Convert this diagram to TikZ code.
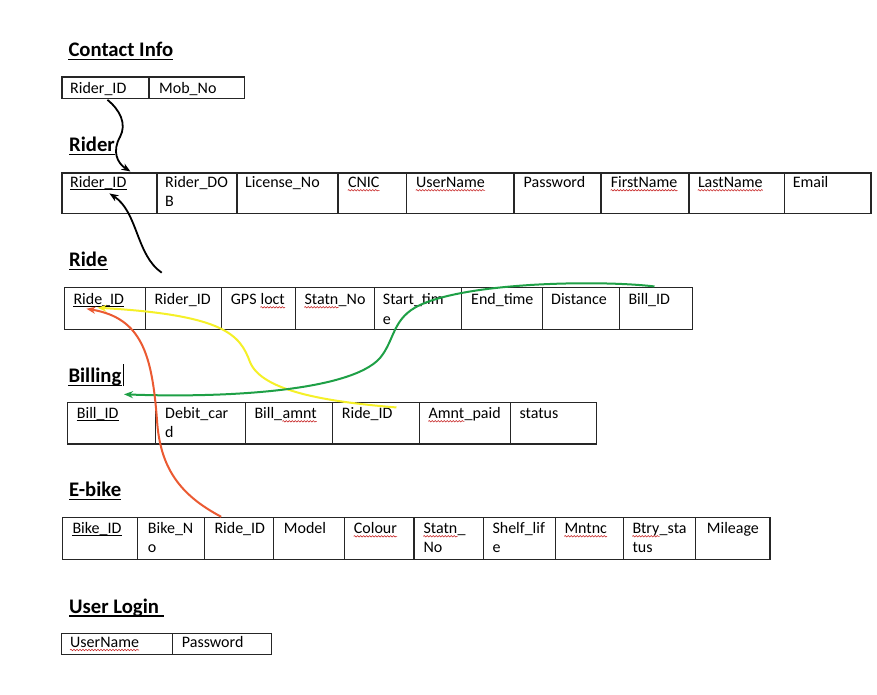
\documentclass[tikz,border=0pt]{standalone}
\usepackage{fontspec}
\setmainfont{Carlito}
\usetikzlibrary{fit,arrows.meta,decorations.pathmorphing}
\definecolor{ylw}{RGB}{245,240,40}
\definecolor{grn}{RGB}{30,160,70}
\definecolor{rdo}{RGB}{235,90,50}
\definecolor{sqred}{RGB}{200,40,40}
\newcommand\tcell[5]{\node[cellbox, fit={(#2,#4) (#3,#5)}] (#1) {};}
\newcommand\ulnode[1]{\draw[ul] ([yshift=-2pt]#1.base west) -- ([yshift=-2pt]#1.base east);}
\newcommand\sqnode[1]{\draw[squig] ([yshift=-3pt]#1.base west) -- ([yshift=-3pt]#1.base east);}
\newcommand\tulnode[1]{\draw[tul] ([yshift=-2.6pt]#1.base west) -- ([yshift=-2.6pt]#1.base east);}
\begin{document}
\begin{tikzpicture}[x=1pt,y=-1pt,
  cellbox/.style={draw=black!85, line width=1.1pt, inner sep=0pt},
  txt/.style={inner sep=0pt, anchor=base west, font=\fontsize{16}{19}\selectfont},
  ttl/.style={inner sep=0pt, anchor=base west, font=\fontsize{20.7}{24}\selectfont\bfseries},
  ul/.style={line width=1pt, black},
  tul/.style={line width=1.5pt, black},
  squig/.style={draw=sqred, line width=0.6pt, decorate, decoration={snake, amplitude=0.7pt, segment length=3pt}},
  blk/.style={line width=1.8pt, black, -{Stealth[length=9pt,width=7pt]}},
  colarrow/.style={line width=2pt, -{Stealth[length=9pt,width=7pt]}},
]
\useasboundingbox[fill=white] (0,0) rectangle (877,695);

% ---------- titles ----------
\node[ttl] (tci) at (68.3,56.7) {Contact Info}; \tulnode{tci}
\node[ttl] (tri) at (69,151.7) {Rider}; \tulnode{tri}
\node[ttl] (trd) at (69,266.7) {Ride}; \tulnode{trd}
\node[ttl] (tbl) at (68.3,382.7) {Billing}; \tulnode{tbl}
\node[ttl] (teb) at (69,496.7) {E-bike}; \tulnode{teb}
\node[ttl] (tul) at (69,613.3) {User Login}; 
\draw[tul] ([yshift=-2.6pt]tul.base west) -- ([xshift=5pt,yshift=-2.6pt]tul.base east);
\draw[line width=0.8pt] ([xshift=1.5pt,yshift=-3.5pt]tbl.base east) -- ++(0,-22);

% ---------- Contact Info ----------
\tcell{ci1}{62}{149}{77}{98.3}
\tcell{ci2}{149}{244.3}{77}{98.3}
\node[txt] (ci1t) at (70,93.3) {Rider\_ID};
\node[txt] (ci2t) at (159,93.3) {Mob\_No};

% ---------- Rider ----------
\tcell{r1}{62}{157}{173}{213.5}
\tcell{r2}{157}{237}{173}{213.5}
\tcell{r3}{237}{338}{173}{213.5}
\tcell{r4}{338}{406.5}{173}{213.5}
\tcell{r5}{406.5}{514}{173}{213.5}
\tcell{r6}{514}{601}{173}{213.5}
\tcell{r7}{601}{689}{173}{213.5}
\tcell{r8}{689}{784.5}{173}{213.5}
\tcell{r9}{784.5}{871}{173}{213.5}
\node[txt] (r1t) at (70,187.3) {Rider\_ID}; \ulnode{r1t}
\node[txt] (r2t) at (165,187.3) {Rider\_DO};
\node[txt] (r2u) at (165,206.7) {B};
\node[txt] (r3t) at (245,187.3) {License\_No};
\node[txt] (r4t) at (347.8,187.3) {CNIC}; \sqnode{r4t}
\node[txt] (r5t) at (415.8,187.3) {UserName}; \sqnode{r5t}
\node[txt] (r6t) at (523.5,187.3) {Password};
\node[txt] (r7t) at (610.6,187.3) {FirstName}; \sqnode{r7t}
\node[txt] (r8t) at (697.8,187.3) {LastName}; \sqnode{r8t}
\node[txt] (r9t) at (792.6,187.3) {Email};

% ---------- Ride ----------
\tcell{rd1}{64.3}{145.3}{287.5}{329.2}
\tcell{rd2}{145.3}{221.3}{287.5}{329.2}
\tcell{rd3}{221.3}{295.7}{287.5}{329.2}
\tcell{rd4}{295.7}{374.7}{287.5}{329.2}
\tcell{rd5}{374.7}{461.3}{287.5}{329.2}
\tcell{rd6}{461.3}{542.7}{287.5}{329.2}
\tcell{rd7}{542.7}{619.7}{287.5}{329.2}
\tcell{rd8}{619.7}{692.7}{287.5}{329.2}
\node[txt] (rd1t) at (73.3,304.3) {Ride\_ID}; \ulnode{rd1t}
\node[txt] (rd2t) at (154.3,304.3) {Rider\_ID};
\node[txt] (rd3t) at (230.7,304.3) {GPS};
\node[txt] (rd3s) at ([xshift=3.6pt]rd3t.base east) {loct}; \sqnode{rd3s}
\node[txt] (rd4t) at (304.3,304.3) {Statn}; \sqnode{rd4t}
\node[txt] (rd4s) at (rd4t.base east) {\_No};
\node[txt] (rd5t) at (382.7,304.3) {Start\_tim};
\node[txt] (rd5u) at (382.7,324) {e};
\node[txt] (rd6t) at (471,304.3) {End\_time};
\node[txt] (rd7t) at (551,304.3) {Distance};
\node[txt] (rd8t) at (628.3,304.3) {Bill\_ID};

% ---------- Billing ----------
\tcell{b1}{67.3}{155.3}{402.7}{444}
\tcell{b2}{155.3}{245.7}{402.7}{444}
\tcell{b3}{245.7}{332.3}{402.7}{444}
\tcell{b4}{332.3}{419.3}{402.7}{444}
\tcell{b5}{419.3}{510.3}{402.7}{444}
\tcell{b6}{510.3}{596.7}{402.7}{444}
\node[txt] (b1t) at (76.7,418.3) {Bill\_ID}; \ulnode{b1t}
\node[txt] (b2t) at (165,418.3) {Debit\_car};
\node[txt] (b2u) at (165,437.3) {d};
\node[txt] (b3t) at (254.3,418.3) {Bill\_};
\node[txt] (b3s) at (b3t.base east) {amnt}; \sqnode{b3s}
\node[txt] (b4t) at (341.7,418.3) {Ride\_ID};
\node[txt] (b5t) at (428.3,418.3) {Amnt}; \sqnode{b5t}
\node[txt] (b5s) at (b5t.base east) {\_paid};
\node[txt] (b6t) at (519.3,418.3) {status};

% ---------- E-bike ----------
\tcell{e1}{62.3}{137.7}{517.3}{559.2}
\tcell{e2}{137.7}{204.7}{517.3}{559.2}
\tcell{e3}{204.7}{273.7}{517.3}{559.2}
\tcell{e4}{273.7}{344.7}{517.3}{559.2}
\tcell{e5}{344.7}{414}{517.3}{559.2}
\tcell{e6}{414}{483.3}{517.3}{559.2}
\tcell{e7}{483.3}{555.7}{517.3}{559.2}
\tcell{e8}{555.7}{623.3}{517.3}{559.2}
\tcell{e9}{623.3}{695.7}{517.3}{559.2}
\tcell{e10}{695.7}{770}{517.3}{559.2}
\node[txt] (e1t) at (72.3,533.3) {Bike\_ID}; \ulnode{e1t}
\node[txt] (e2t) at (147.7,533.3) {Bike\_N};
\node[txt] (e2u) at (147.7,552.7) {o};
\node[txt] (e3t) at (214.3,533.3) {Ride\_ID};
\node[txt] (e4t) at (283.7,533.3) {Model};
\node[txt] (e5t) at (353.7,533.3) {Colour}; \sqnode{e5t}
\node[txt] (e6t) at (423.3,533.3) {Statn}; \sqnode{e6t}
\node[txt] (e6s) at (e6t.base east) {\_};
\node[txt] (e6u) at (423.3,552.7) {No};
\node[txt] (e7t) at (492.3,533.3) {Shelf\_lif};
\node[txt] (e7u) at (492.3,552.7) {e};
\node[txt] (e8t) at (564.3,533.3) {Mntnc}; \sqnode{e8t}
\node[txt] (e9t) at (632.3,533.3) {Btry}; \sqnode{e9t}
\node[txt] (e9s) at (e9t.base east) {\_sta};
\node[txt] (e9u) at (632.3,552.7) {tus};
\node[txt] (e10t) at (706.7,533.3) {Mileage};

% ---------- User Login ----------
\tcell{u1}{61.7}{172.3}{633.3}{654.3}
\tcell{u2}{172.3}{271.7}{633.3}{654.3}
\node[txt] (u1t) at (70,647) {UserName}; \sqnode{u1t}
\node[txt] (u2t) at (181.7,647) {Password};

% ---------- connectors ----------
\coordinate (a2s) at (161.7,272.7);
\coordinate (gEnd) at (124,394.3);

\draw[blk] ([xshift=46pt,yshift=-1pt]ci1.south west)
  .. controls (120,110) and (127,124) .. (120,137)
  .. controls (112,151) and (117,163) .. ([xshift=69pt,yshift=1pt]r1.north west);

\draw[blk] (a2s) .. controls (136,255) and (138,212) .. ([xshift=48pt,yshift=-21pt]r1.north west);

\draw[colarrow, ylw] ([xshift=64.7pt,yshift=-5.3pt]b4.north west)
  .. controls (330,402) and (262,392) .. (250,362)
  .. controls (240,335) and (225,315) .. ([xshift=33.7pt,yshift=-20.8pt]rd1.north west);

\draw[colarrow, grn] ([xshift=35.3pt,yshift=0.5pt]rd8.north west)
  .. controls (600,280) and (470,282) .. (420,305)
  .. controls (392,318) and (395,340) .. (380,358)
  .. controls (350,392) and (220,398) .. (gEnd);

\draw[colarrow, rdo] ([xshift=17pt]e3.north west)
  .. controls (180,495) and (160,468) .. (157,420)
  .. controls (152,355) and (142,318) .. ([xshift=22.7pt,yshift=-21.8pt]rd1.north west);

\end{tikzpicture}
\end{document}
